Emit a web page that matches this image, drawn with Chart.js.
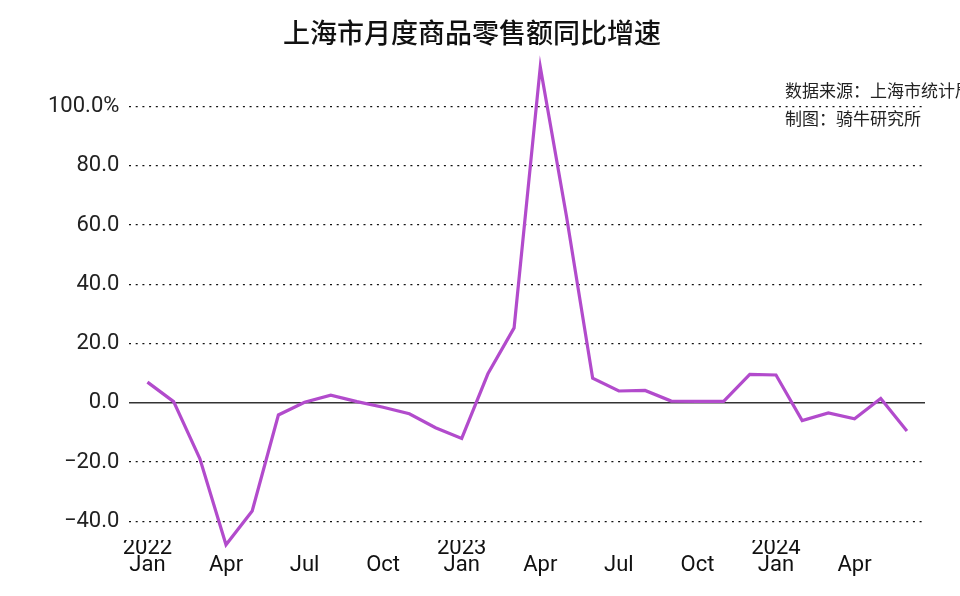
<!DOCTYPE html>
<html>
<head>
<meta charset="utf-8">
<script src="https://cdn.jsdelivr.net/npm/chart.js@4"></script>
<style>
  html, body { margin: 0; padding: 0; background: #fff; }
  #wrap { width: 960px; height: 596px; }
</style>
</head>
<body>
<div id="wrap"><canvas id="chart1"></canvas></div>
<script>
// 月份 (2022年1月 - 2024年6月)
var years = ['2022', '2023', '2024']
var monthNames = ['Jan', 'Feb', 'Mar', 'Apr', 'May', 'Jun', 'Jul', 'Aug', 'Sep', 'Oct', 'Nov', 'Dec']
var months = []
for (var i = 0; i < 30; i++) months.push(years[Math.floor(i / 12)] + '-' + monthNames[i % 12])

// 商品零售额同比增速 (%)
var growth = [7.0, 0.4, -18.8, -47.9, -36.5, -4.1, 0.2, 2.6, 0.4, -1.5, -3.7, -8.4,
              -12.0, 9.8, 25.3, 113.4, 63.0, 8.3, 4.0, 4.2, 0.6, 0.5, 0.5, 9.6,
              9.4, -6.0, -3.4, -5.4, 1.5, -9.5]

var yTicks = [-40, -20, 0, 20, 40, 60, 80, 100]
var xTicks = [0, 3, 6, 9, 12, 15, 18, 21, 24, 27]

var chartTitle = '上海市月度商品零售额同比增速'
var sourceNote = ['数据来源：上海市统计局', '制图：骑牛研究所']

// 标题和数据来源
var notePlugin = {
  id: 'note',
  afterDraw: function (chart) {
    var ctx = chart.ctx
    ctx.save()
    ctx.textBaseline = 'middle'
    ctx.fillStyle = '#111'
    ctx.font = '500 27px "Noto Sans CJK SC"'
    ctx.textAlign = 'center'
    ctx.fillText(chartTitle, 472, 33)
    ctx.fillStyle = '#222'
    ctx.font = '17px "Noto Sans CJK SC"'
    ctx.textAlign = 'left'
    ctx.fillText(sourceNote[0], 785, 91)
    ctx.fillText(sourceNote[1], 785, 119)
    ctx.restore()
  }
}

var lineCanvas = document.getElementById('chart1').getContext('2d')

new Chart(lineCanvas, {
  type: 'line',
  data: {
    datasets: [{
      label: '同比增速',
      data: growth.map(function (v, i) { return { x: i, y: v } }),
      borderColor: '#b24bcc',
      borderWidth: 3.2,
      pointRadius: 0,
      tension: 0,
      fill: false,
      clip: false
    }]
  },
  options: {
    responsive: true,
    maintainAspectRatio: false,
    animation: false,
    layout: { padding: { left: 38, right: 35, top: 66, bottom: 14 } },
    plugins: {
      legend: { display: false },
      tooltip: { enabled: false },
      title: { display: false }
    },
    scales: {
      x: {
        type: 'linear',
        min: -0.69,
        max: 29.69,
        grid: { display: false },
        border: { display: false },
        afterBuildTicks: function (scale) {
          scale.ticks = xTicks.map(function (v) { return { value: v } })
        },
        ticks: {
          autoSkip: false,
          maxRotation: 0,
          padding: 0,
          crossAlign: 'far',
          color: '#111',
          font: { family: 'Roboto', size: 22, lineHeight: '17px' },
          callback: function (v) {
            var m = monthNames[v % 12]
            if (v % 12 === 0) return [years[v / 12], m]
            return m
          }
        }
      },
      y: {
        min: -46.3,
        max: 113.7,
        afterBuildTicks: function (scale) {
          scale.ticks = yTicks.map(function (v) { return { value: v } })
        },
        grid: {
          drawTicks: false,
          color: function (c) { return c.tick && c.tick.value === 0 ? '#333' : '#111' },
          lineWidth: function (c) { return c.tick && c.tick.value === 0 ? 1.5 : 1.3 }
        },
        border: {
          display: false,
          dash: function (c) { return c.tick && c.tick.value === 0 ? [] : [2, 4.7] }
        },
        ticks: {
          padding: 10,
          color: '#222',
          font: { family: 'Roboto', size: 22 },
          callback: function (v) {
            var s = Math.abs(v).toFixed(1)
            if (v < 0) s = '\u2212' + s
            return v === 100 ? s + '%' : s
          }
        }
      }
    }
  },
  plugins: [notePlugin]
})
</script>
</body>
</html>
